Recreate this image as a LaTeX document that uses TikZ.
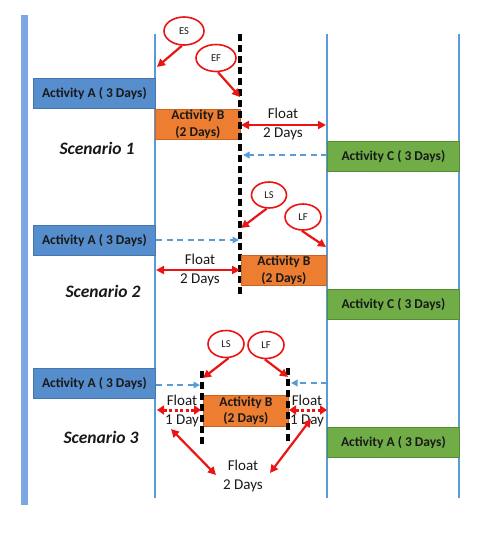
\documentclass[tikz,border=0pt]{standalone}
\usepackage{fontspec}
\setmainfont{Carlito}
\usetikzlibrary{arrows.meta,shapes.geometric}
\definecolor{barblue}{RGB}{125,166,226}
\definecolor{lineblue}{RGB}{91,155,213}
\definecolor{boxblue}{RGB}{86,141,205}
\definecolor{boxblueD}{RGB}{70,118,176}
\definecolor{boxorange}{RGB}{237,125,49}
\definecolor{boxorangeD}{RGB}{200,100,35}
\definecolor{boxgreen}{RGB}{112,173,71}
\definecolor{boxgreenD}{RGB}{84,140,50}
\definecolor{txt}{RGB}{25,25,25}
\definecolor{myred}{RGB}{235,20,20}
\tikzset{
  actbox/.style={draw=#1D, fill=#1, line width=0.8pt, anchor=north west, inner sep=0pt,
    text=txt, font=\fontsize{13.5}{16.5}\selectfont\bfseries, align=center},
  vline/.style={draw=lineblue, line width=1.5pt},
  blackdash/.style={draw=black, line width=3.2pt, dash pattern=on 7pt off 4pt},
  bluedash/.style={draw=lineblue, line width=1.9pt, dash pattern=on 6pt off 4.5pt,
    -{Triangle[length=6.5pt,width=6.5pt]}},
  redarr/.style={draw=myred, line width=2.2pt, -{Triangle[length=8pt,width=8pt]}},
  redboth/.style={draw=myred, line width=2.2pt, {Triangle[length=8pt,width=8pt]}-{Triangle[length=8pt,width=8pt]}},
  reddot/.style={draw=myred, line width=3pt, dash pattern=on 3pt off 2.5pt,
    {Triangle[length=7pt,width=9pt]}-{Triangle[length=7pt,width=9pt]}},
  tag/.style={ellipse, draw=myred, line width=1.6pt, fill=white, inner sep=0pt,
    font=\fontsize{10.5}{12}\selectfont, text=txt},
  floattxt/.style={align=center, font=\fontsize{15}{19}\selectfont, text=txt, inner sep=0pt},
  scen/.style={font=\fontsize{17.5}{20}\selectfont\bfseries\itshape, text=txt, inner sep=0pt}
}
\begin{document}
\begin{tikzpicture}[x=1pt,y=-1pt]
\useasboundingbox (0,0) rectangle (483,536);
% background bars and lines
\fill[barblue] (21,15) rectangle (28,505);
\draw[vline] (155,34) -- (155,498);
\draw[vline] (327,34) -- (327,498);
\draw[vline] (459,34) -- (459,498);

% ---------- Scenario 1 ----------
\node[actbox=boxblue, minimum width=122pt, minimum height=30pt] (a1) at (33,78) {Activity A ( 3 Days)};
\node[actbox=boxorange, minimum width=85pt, minimum height=30pt] (b1) at (155,109) {Activity B\\(2 Days)};
\node[actbox=boxgreen, minimum width=132pt, minimum height=30pt] (c1) at (327,141) {Activity C ( 3 Days)};
\coordinate (d12top) at (240,34);
\coordinate (d12bot) at (240,297);
\draw[blackdash] (d12top) -- (d12bot);
\node[tag, minimum width=40pt, minimum height=28pt] (es) at (184,31) {ES};
\node[tag, minimum width=40pt, minimum height=27pt] (ef) at (216,58) {EF};
\coordinate (esT) at (157,67);
\coordinate (efT) at (240,97);
\draw[redarr] (es.-98) -- (esT);
\draw[redarr] (ef.-82) -- (efT);
\coordinate (f1L) at (241,125);
\coordinate (f1R) at (326,125);
\draw[redboth] (f1L) -- (f1R);
\node[floattxt] (ft1) at (283,124) {Float\\2 Days};
\coordinate (bd1S) at (327,155);
\coordinate (bd1E) at (243,155);
\draw[bluedash] (bd1S) -- (bd1E);
\node[scen] (s1) at (97,148) {Scenario 1};

% ---------- Scenario 2 ----------
\node[actbox=boxblue, minimum width=122pt, minimum height=30pt] (a2) at (33,225) {Activity A ( 3 Days)};
\node[actbox=boxorange, minimum width=85pt, minimum height=30pt] (b2) at (241,255) {Activity B\\(2 Days)};
\node[actbox=boxgreen, minimum width=132pt, minimum height=30pt] (c2) at (327,289) {Activity C ( 3 Days)};
\coordinate (bd2S) at (156,240);
\coordinate (bd2E) at (239,240);
\draw[bluedash] (bd2S) -- (bd2E);
\coordinate (f2L) at (156,270);
\coordinate (f2R) at (240,270);
\draw[redboth] (f2L) -- (f2R);
\node[floattxt] (ft2) at (200,270) {Float\\2 Days};
\node[tag, minimum width=35pt, minimum height=26pt] (ls2) at (269,195) {LS};
\node[tag, minimum width=36pt, minimum height=26pt] (lf2) at (303,217) {LF};
\coordinate (ls2T) at (241,228);
\coordinate (lf2T) at (326,247);
\draw[redarr] (ls2.-100) -- (ls2T);
\draw[redarr] (lf2.-95) -- (lf2T);
\node[scen] (s2) at (103,291) {Scenario 2};

% ---------- Scenario 3 ----------
\node[actbox=boxblue, minimum width=122pt, minimum height=30pt] (a3) at (33,368) {Activity A ( 3 Days)};
\node[actbox=boxorange, minimum width=85pt, minimum height=31pt] (b3) at (203,395) {Activity B\\(2 Days)};
\node[actbox=boxgreen, minimum width=132pt, minimum height=30pt] (c3) at (327,427) {Activity A ( 3 Days)};
\coordinate (d3Ltop) at (202,371);
\coordinate (d3Lbot) at (202,447);
\coordinate (d3Rtop) at (288,368);
\coordinate (d3Rbot) at (288,444);
\draw[blackdash] (d3Ltop) -- (d3Lbot);
\draw[blackdash] (d3Rtop) -- (d3Rbot);
\node[tag, minimum width=36pt, minimum height=27pt] (ls3) at (226,344) {LS};
\node[tag, minimum width=36pt, minimum height=27pt] (lf3) at (266,345) {LF};
\coordinate (ls3T) at (203,378);
\coordinate (lf3T) at (288,377);
\draw[redarr] (ls3.-80) -- (ls3T);
\draw[redarr] (lf3.-95) -- (lf3T);
\coordinate (bd3aS) at (156,385);
\coordinate (bd3aE) at (200,385);
\draw[bluedash] (bd3aS) -- (bd3aE);
\coordinate (bd3bS) at (327,383);
\coordinate (bd3bE) at (291,383);
\draw[bluedash] (bd3bS) -- (bd3bE);
\coordinate (dl3L) at (157,410);
\coordinate (dl3R) at (201,410);
\draw[reddot] (dl3L) -- (dl3R);
\coordinate (dr3L) at (289,410);
\coordinate (dr3R) at (327,410);
\draw[reddot] (dr3L) -- (dr3R);
\node[floattxt] (ft3a) at (182,411) {Float\\1 Day};
\node[floattxt] (ft3b) at (307,411) {Float\\1 Day};
\node[floattxt] (ft3c) at (243,476) {Float\\2 Days};
\coordinate (big1A) at (171,429);
\coordinate (big1B) at (216,475);
\coordinate (big2A) at (311,419);
\coordinate (big2B) at (270,473);
\draw[redboth] (big1A) -- (big1B);
\draw[redboth] (big2A) -- (big2B);
\node[scen] (s3) at (101,437) {Scenario 3};
\end{tikzpicture}
\end{document}
